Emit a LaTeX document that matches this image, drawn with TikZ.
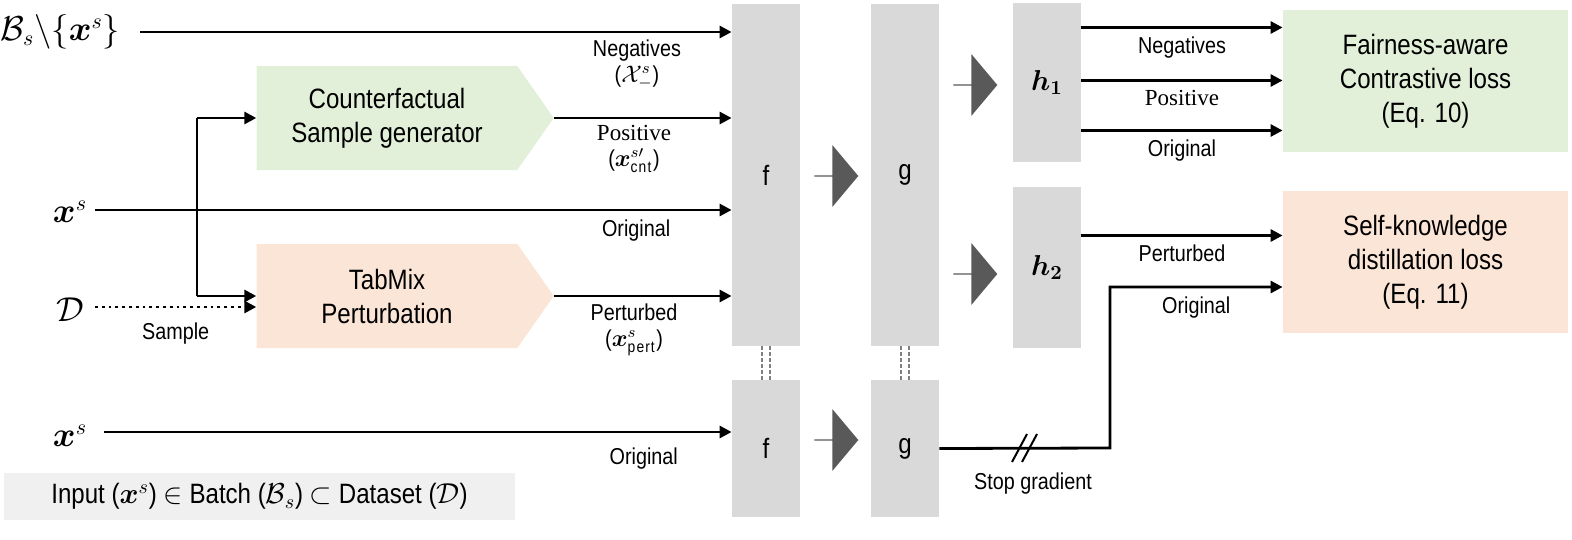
\documentclass[tikz,border=0pt]{standalone}
\usepackage{amsmath}
\usepackage{amssymb}
\usepackage{bm}
\usepackage{fontspec}
\setmainfont{Liberation Sans}[FakeStretch=0.86]
\newfontfamily\serifpos{Liberation Serif}
\usetikzlibrary{arrows.meta,shapes.symbols,shapes.arrows}
\definecolor{cfgreen}{RGB}{226,240,217}
\definecolor{cfpeach}{RGB}{251,229,214}
\definecolor{blockgray}{RGB}{217,217,217}
\definecolor{arrowgray}{RGB}{89,89,89}
\definecolor{legendgray}{RGB}{240,240,240}

\begin{document}
\begin{tikzpicture}[x=0.5pt,y=-0.5pt,
  flow/.style={line width=1.4pt,-{Triangle[length=6pt,width=6pt]}},
  block/.style={fill=blockgray,inner sep=0pt,font=\fontsize{14}{16}\selectfont},
  gen/.style={signal,signal to=east,signal pointer angle=110,inner sep=0pt,
    minimum width=148.5pt,minimum height=52pt,align=center,font=\fontsize{14}{17}\selectfont},
  loss/.style={inner sep=0pt,minimum width=142.5pt,minimum height=71pt,align=center,
    font=\fontsize{14}{17}\selectfont},
  lab/.style={font=\fontsize{11.5}{13}\selectfont,align=center,inner sep=1pt},
  big/.style={single arrow,fill=arrowgray,minimum height=22pt,minimum width=31pt,
    single arrow head extend=9pt,single arrow tip angle=100,inner sep=0pt},
  inp/.style={font=\fontsize{16}{18}\selectfont}]
  \useasboundingbox (0,0) rectangle (1572,540);

  % inputs
  \node[inp,anchor=west,inner sep=0pt] (bs) at (0,32) {$\mathcal{B}_s\backslash\{\bm{x}^s\}$};
  \node[inp] (xs) at (70,212) {$\bm{x}^s$};
  \node[inp] (dd) at (70,310) {$\mathcal{D}$};
  \node[inp] (xs2) at (70,436) {$\bm{x}^s$};
  \coordinate (bsend) at (140,32);
  \coordinate (xsend) at (95,210);
  \coordinate (ddend) at (95,307);
  \coordinate (xs2end) at (104,432);
  \coordinate (split) at (197,210);

  % generators
  \node[gen,fill=cfgreen] (cf) at (387,118) {Counterfactual\\Sample generator};
  \node[gen,fill=cfpeach] (tm) at (387,296) {TabMix\\Perturbation};

  % encoders
  \node[block,minimum width=34pt,minimum height=171pt] (f1) at (766,175) {f};
  \node[block,minimum width=34pt,minimum height=171pt] (g1) at (905,175) {g};
  \node[block,minimum width=34pt,minimum height=68.5pt] (f2) at (766,448.5) {f};
  \node[block,minimum width=34pt,minimum height=68.5pt] (g2) at (905,448.5) {g};
  \node[block,minimum width=34pt,minimum height=79.5pt] (h1) at (1047,82.5) {$\bm{h_1}$};
  \node[block,minimum width=34pt,minimum height=80.5pt] (h2) at (1047,267.5) {$\bm{h_2}$};

  % losses
  \node[loss,fill=cfgreen] (fcl) at (1425.5,81) {Fairness-aware\\Contrastive loss\\(Eq. 10)};
  \node[loss,fill=cfpeach] (skd) at (1425.5,262) {Self-knowledge\\distillation loss\\(Eq. 11)};

  % big arrows
  \node[big] (a1) at (836,176) {};
  \node[big] (a2) at (836,440) {};
  \node[big] (a3) at (975,85) {};
  \node[big] (a4) at (975,274) {};

  % shared weights
  \foreach \b/\t in {f1/f2,g1/g2}{
    \draw[gray,line width=0.8pt,dash pattern=on 2pt off 1pt] ([xshift=-2pt]\b.south) -- ([xshift=-2pt]\t.north);
    \draw[gray,line width=0.8pt,dash pattern=on 2pt off 1pt] ([xshift=2pt]\b.south) -- ([xshift=2pt]\t.north);
  }

  % flows into f
  \draw[flow] (bsend) -- (bsend -| f1.west) node[lab,pos=0.84,below=2pt] {Negatives\\($\mathcal{X}^s_-$)};
  \draw[flow] (cf.east) -- (cf.east -| f1.west) node[lab,pos=0.45,below=2pt] {{\serifpos Positive}\\($\bm{x}^{s\prime}_{\mathrm{cnt}}$)};
  \draw[flow] (xsend) -- (xsend -| f1.west) node[lab,pos=0.85,below=3pt] {Original};
  \draw[flow] (tm.east) -- (tm.east -| f1.west) node[lab,pos=0.45,below=2pt] {Perturbed\\($\bm{x}^{s}_{\mathrm{pert}}$)};
  \draw[flow] (xs2end) -- (xs2end -| f2.west) node[lab,pos=0.86,below=6pt] {Original};
  \draw[flow] (split |- cf.west) -- (cf.west);
  \draw[line width=1.4pt] (split |- cf.west) -- (split |- tm.west);
  \draw[flow] (split |- tm.west) -- (tm.west);
  \draw[line width=1.4pt,dotted,-{Triangle[length=6pt,width=6pt]}] (ddend) -- (ddend -| tm.west)
    node[lab,midway,below=6pt] {Sample};

  % flows into losses
  \draw[flow] ([yshift=27.5pt]h1.east) -- ([yshift=27.5pt]h1.east -| fcl.west) node[lab,midway,below=3pt] {Negatives};
  \draw[flow] ([yshift=1pt]h1.east) -- ([yshift=1pt]h1.east -| fcl.west) node[lab,midway,below=3pt] {{\serifpos Positive}};
  \draw[flow] ([yshift=-24pt]h1.east) -- ([yshift=-24pt]h1.east -| fcl.west) node[lab,midway,below=3pt] {Original};
  \draw[flow] ([yshift=16pt]h2.east) -- ([yshift=16pt]h2.east -| skd.west) node[lab,midway,below=3pt] {Perturbed};
  \coordinate (sg) at (1110,448);
  \draw[flow] (g2.east) -- (sg) -- (sg |- 0,287) -- (skd.west |- 0,287)
    node[lab,pos=0.5,below=3pt] {Original};
  \draw[line width=1pt] (1012,462) -- (1027,434) (1022,462) -- (1037,434);
  \node[lab] (sglab) at (1033,484) {Stop gradient};

  % legend
  \node[fill=legendgray,minimum width=255.5pt,minimum height=23.5pt,inner sep=0pt,
    font=\fontsize{14}{16}\selectfont] (legend) at (259.5,496.5)
    {Input ($\bm{x}^s$) $\in$ Batch ($\mathcal{B}_s$) $\subset$ Dataset ($\mathcal{D}$)};
\end{tikzpicture}
\end{document}
